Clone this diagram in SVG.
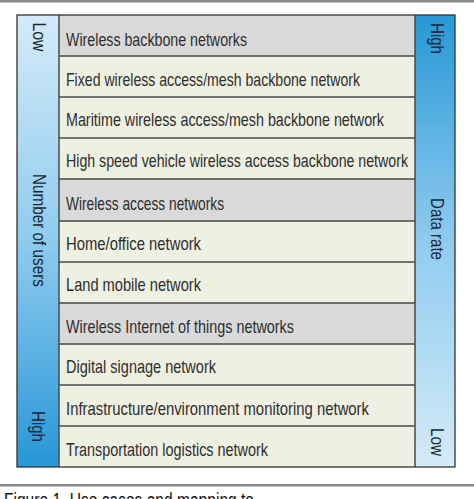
<svg xmlns="http://www.w3.org/2000/svg" width="474" height="499" viewBox="0 0 474 499">
<style>
.row-cream{fill:#eef0e2}
.row-gray{fill:#d9d9d9}
.sep{stroke:#4a4a4a;stroke-width:1.5;fill:none}
.rt{font-family:"Liberation Sans Narrow","Liberation Sans",Arial,sans-serif;font-size:18.5px;fill:#2e2e2e}
.st{font-family:"Liberation Sans Narrow","Liberation Sans",Arial,sans-serif;font-size:18.5px;fill:#1c2733}
.rule{fill:#8a8a8a}
.cap{font-family:"Liberation Sans Narrow","Liberation Sans",Arial,sans-serif;font-size:20px;fill:#111}
</style>
<defs>
<linearGradient id="gLeft" x1="0" y1="0" x2="0" y2="1">
<stop offset="0" stop-color="#d4ebf8"/>
<stop offset="0.5" stop-color="#8fcbef"/>
<stop offset="1" stop-color="#2797d6"/>
</linearGradient>
<linearGradient id="gRight" x1="0" y1="0" x2="0" y2="1">
<stop offset="0" stop-color="#2798d6"/>
<stop offset="0.5" stop-color="#8fcbef"/>
<stop offset="1" stop-color="#d4ebf8"/>
</linearGradient>
<clipPath id="clipView"><rect x="0" y="0" width="474" height="499"/></clipPath>
</defs>
<rect x="0" y="0" width="474" height="499" fill="#ffffff"/>
<rect class="rule" x="0" y="0" width="474" height="2.5"/>
<rect class="rule" x="0" y="484" width="474" height="2.5"/>

<g id="users-axis">
<rect x="17" y="15" width="42" height="452" fill="url(#gLeft)"/>
<text class="st" text-anchor="middle" textLength="29" lengthAdjust="spacingAndGlyphs" transform="translate(32.5,37) rotate(90)">Low</text>
<text class="st" text-anchor="middle" textLength="113" lengthAdjust="spacingAndGlyphs" transform="translate(32.5,230.5) rotate(90)">Number of users</text>
<text class="st" text-anchor="middle" textLength="31" lengthAdjust="spacingAndGlyphs" transform="translate(31.5,426.5) rotate(90)">High</text>
</g>

<g id="rate-axis">
<rect x="415" y="15" width="40" height="452" fill="url(#gRight)"/>
<text class="st" text-anchor="middle" textLength="31" lengthAdjust="spacingAndGlyphs" transform="translate(430.5,38.5) rotate(90)">High</text>
<text class="st" text-anchor="middle" textLength="62" lengthAdjust="spacingAndGlyphs" transform="translate(430.5,229) rotate(90)">Data rate</text>
<text class="st" text-anchor="middle" textLength="28" lengthAdjust="spacingAndGlyphs" transform="translate(430.5,442) rotate(90)">Low</text>
</g>

<g id="row-wireless-backbone">
<rect class="row-gray" x="59" y="15" width="356" height="41"/>
<text class="rt" x="66" y="46" textLength="181" lengthAdjust="spacingAndGlyphs">Wireless backbone networks</text>
</g>
<g id="row-fixed-wireless">
<rect class="row-cream" x="59" y="56" width="356" height="41"/>
<text class="rt" x="66" y="85.5" textLength="294" lengthAdjust="spacingAndGlyphs">Fixed wireless access/mesh backbone network</text>
</g>
<g id="row-maritime">
<rect class="row-cream" x="59" y="97" width="356" height="41"/>
<text class="rt" x="66" y="126" textLength="318" lengthAdjust="spacingAndGlyphs">Maritime wireless access/mesh backbone network</text>
</g>
<g id="row-high-speed-vehicle">
<rect class="row-cream" x="59" y="138" width="356" height="41"/>
<text class="rt" x="66" y="167" textLength="342" lengthAdjust="spacingAndGlyphs">High speed vehicle wireless access backbone network</text>
</g>
<g id="row-wireless-access">
<rect class="row-gray" x="59" y="179" width="356" height="42"/>
<text class="rt" x="66" y="210" textLength="158" lengthAdjust="spacingAndGlyphs">Wireless access networks</text>
</g>
<g id="row-home-office">
<rect class="row-cream" x="59" y="221" width="356" height="41"/>
<text class="rt" x="66" y="249.5" textLength="135" lengthAdjust="spacingAndGlyphs">Home/office network</text>
</g>
<g id="row-land-mobile">
<rect class="row-cream" x="59" y="262" width="356" height="41"/>
<text class="rt" x="66" y="290.5" textLength="135" lengthAdjust="spacingAndGlyphs">Land mobile network</text>
</g>
<g id="row-wireless-iot">
<rect class="row-gray" x="59" y="303" width="356" height="41"/>
<text class="rt" x="66" y="333" textLength="228" lengthAdjust="spacingAndGlyphs">Wireless Internet of things networks</text>
</g>
<g id="row-digital-signage">
<rect class="row-cream" x="59" y="344" width="356" height="41"/>
<text class="rt" x="66" y="373" textLength="150" lengthAdjust="spacingAndGlyphs">Digital signage network</text>
</g>
<g id="row-infrastructure">
<rect class="row-cream" x="59" y="385" width="356" height="41"/>
<text class="rt" x="66" y="414.5" textLength="303" lengthAdjust="spacingAndGlyphs">Infrastructure/environment monitoring network</text>
</g>
<g id="row-transportation">
<rect class="row-cream" x="59" y="426" width="356" height="41"/>
<text class="rt" x="66" y="455.5" textLength="202" lengthAdjust="spacingAndGlyphs">Transportation logistics network</text>
</g>

<g id="grid-lines">
<path class="sep" d="M59 56H415M59 97H415M59 138H415M59 179H415M59 221H415M59 262H415M59 303H415M59 344H415M59 385H415M59 426H415"/>
<path class="sep" d="M59 15V467M415 15V467"/>
<rect x="17" y="15" width="438" height="452" fill="none" stroke="#333" stroke-width="1.3"/>
</g>

<g id="connectors"/>

<g id="caption" clip-path="url(#clipView)">
<text class="cap" x="4" y="506.5" textLength="250" lengthAdjust="spacingAndGlyphs">Figure 1. Use cases and mapping to</text>
</g>
</svg>
